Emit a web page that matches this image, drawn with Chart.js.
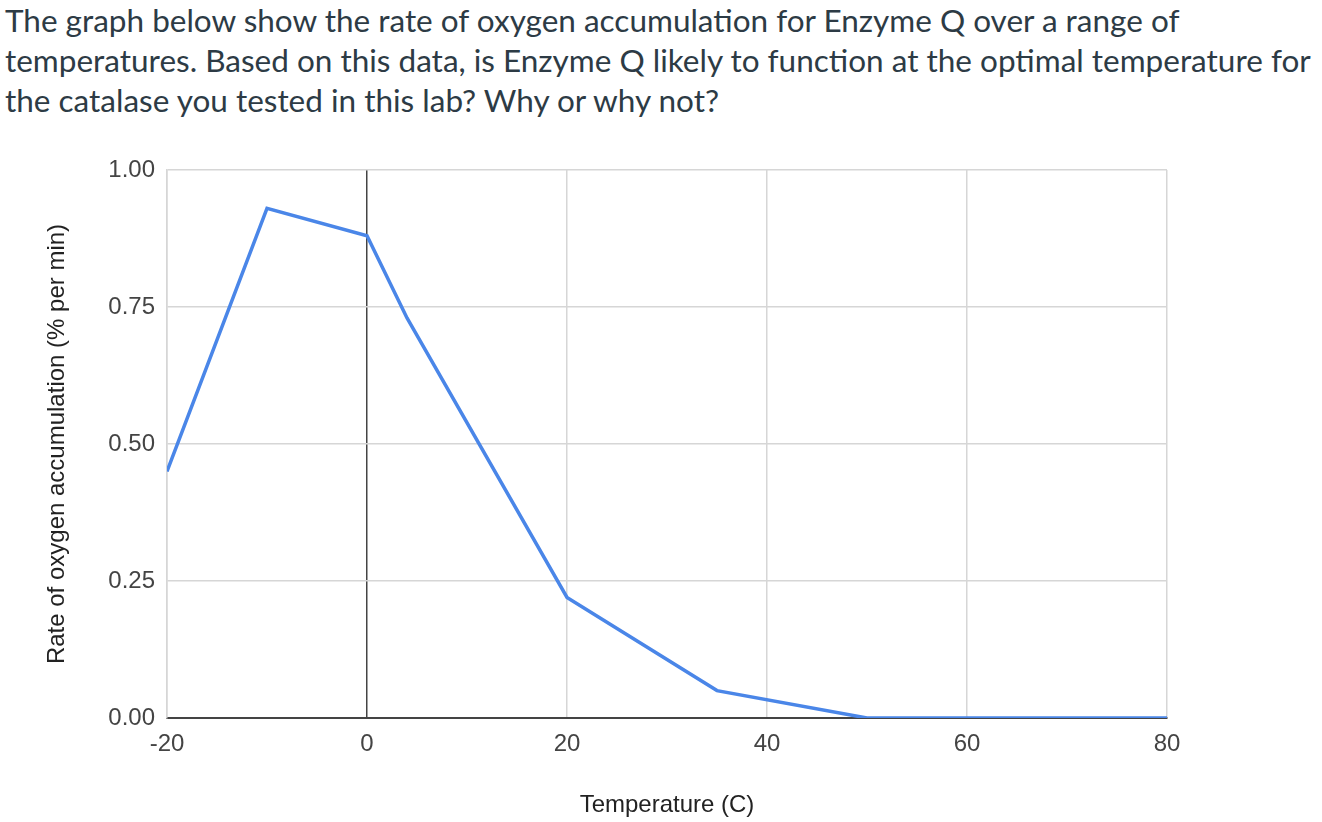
<!DOCTYPE html>
<html>
<head>
<meta charset="utf-8">
<script src="https://cdn.jsdelivr.net/npm/chart.js@4/dist/chart.umd.min.js"></script>
<style>
  body { margin: 0; background: #fff; }
  #question {
    position: absolute; left: 5px; top: 0; white-space: nowrap;
    font-family: Lato, sans-serif; font-size: 31.5px; line-height: 40px;
    color: #2d3b45;
  }
  #wrap { position: absolute; left: 0; top: 0; width: 1322px; height: 822px; }
</style>
</head>
<body>
<div id="question">The graph below show the rate of oxygen accumulation for Enzyme Q over a range of<br>temperatures. Based on this data, is Enzyme Q likely to function at the optimal temperature for<br>the catalase you tested in this lab? Why or why not?</div>
<div id="wrap"><canvas id="chart"></canvas></div>
<script>
// temperature (C) and rate of oxygen accumulation (% per min)
let temps = [-20, -10, 0, 4, 20, 35, 50, 80];
let rates = [0.45, 0.93, 0.88, 0.73, 0.22, 0.05, 0, 0];
let xTicks = [-20, 0, 20, 40, 60, 80];
let yTicks = [0, 0.25, 0.5, 0.75, 1];

let points = temps.map(function (t, i) { return { x: t, y: rates[i] }; });

function chartDisplay() {
    let ctx = document.getElementById('chart').getContext('2d');
    let tickFont = { family: '"Liberation Sans", Arial, sans-serif', size: 24 };
    new Chart(ctx, {
        type: 'line',
        data: {
            datasets: [{
                data: points,
                borderColor: '#4a86e8',
                borderWidth: 3.5,
                pointRadius: 0,
                tension: 0,
                fill: false
            }]
        },
        options: {
            responsive: true,
            maintainAspectRatio: false,
            animation: false,
            layout: { padding: { left: 40, top: 170, right: 155, bottom: 0 } },
            plugins: { legend: { display: false }, tooltip: { enabled: false } },
            scales: {
                x: {
                    type: 'linear',
                    min: xTicks[0],
                    max: xTicks[xTicks.length - 1],
                    afterBuildTicks: function (s) { s.ticks = xTicks.map(function (v) { return { value: v }; }); },
                    afterFit: function (s) { s.height = 104; },
                    ticks: { font: tickFont, color: '#444', padding: 12, maxRotation: 0 },
                    grid: {
                        drawTicks: false,
                        lineWidth: 1.5,
                        color: function (c) { return c.tick && c.tick.value === 0 ? '#444' : '#d6d6d6'; }
                    },
                    border: { color: '#444', width: 2 },
                    title: {
                        display: true, text: 'Temperature (C)', color: '#222',
                        font: tickFont, padding: { top: 4, bottom: 2 }
                    }
                },
                y: {
                    min: 0,
                    max: 1,
                    afterBuildTicks: function (s) { s.ticks = yTicks.map(function (v) { return { value: v }; }); },
                    afterFit: function (s) { s.width = 127; },
                    ticks: {
                        font: tickFont, color: '#444', padding: 12,
                        callback: function (v) { return Number(v).toFixed(2); }
                    },
                    grid: {
                        drawTicks: false,
                        lineWidth: 1.5,
                        color: function (c) { return c.tick && c.tick.value === 0 ? '#444' : '#d6d6d6'; }
                    },
                    border: { color: '#d6d6d6', width: 1.5 },
                    title: {
                        display: true, text: 'Rate of oxygen accumulation (% per min)', color: '#222',
                        font: tickFont, padding: { top: 3, bottom: 4 }
                    }
                }
            }
        }
    });
}

chartDisplay();
</script>
</body>
</html>
